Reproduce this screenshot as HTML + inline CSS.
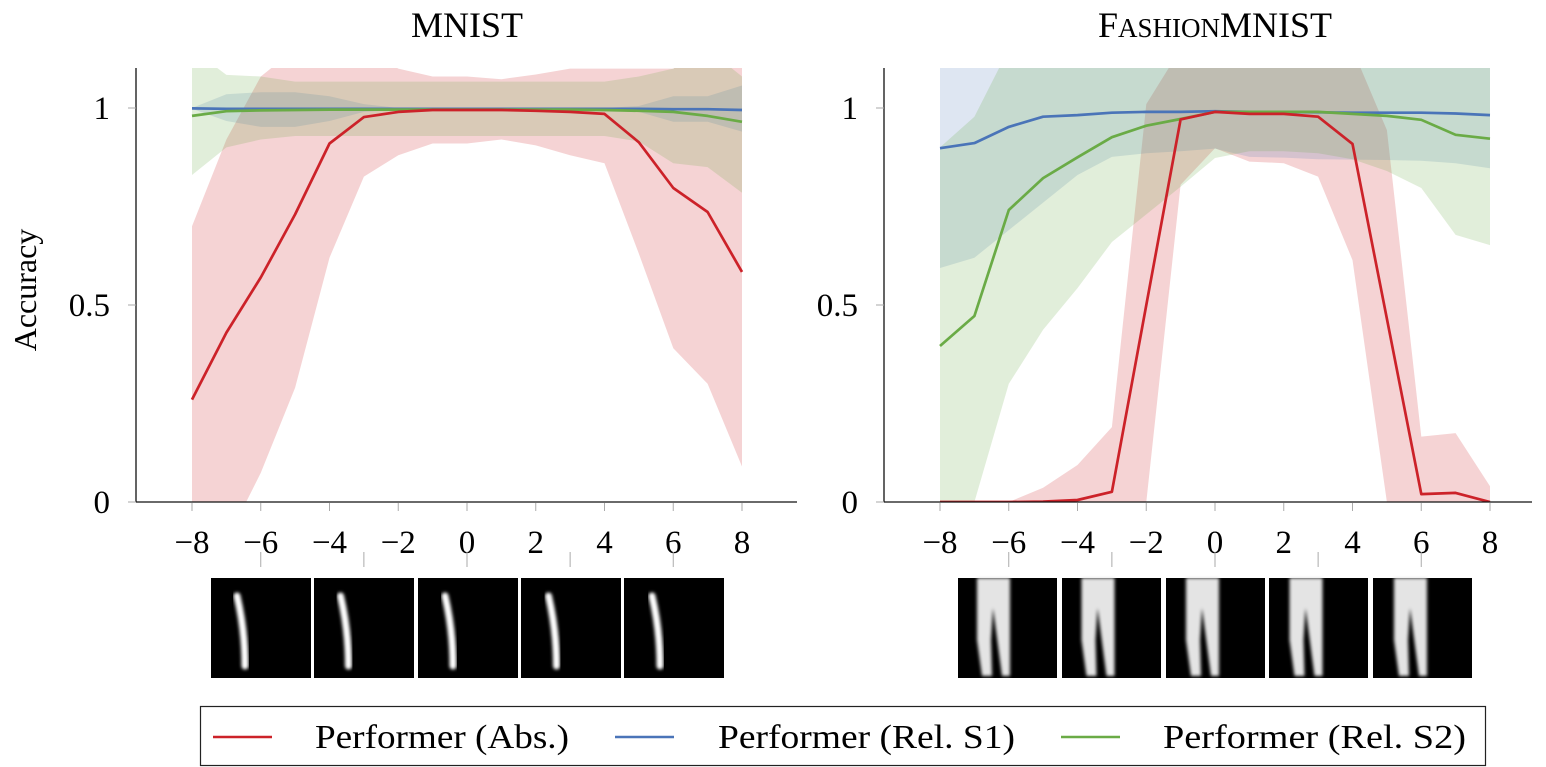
<!DOCTYPE html>
<html><head><meta charset="utf-8">
<style>
html,body{margin:0;padding:0;background:#fff;}
svg{display:block;font-family:"Liberation Serif",serif;}
</style></head>
<body>
<svg id="fig" width="1546" height="767" viewBox="0 0 1546 767" xmlns="http://www.w3.org/2000/svg">
<defs>
<clipPath id="clipL"><rect x="136" y="68" width="661" height="434"/></clipPath>
<clipPath id="clipR"><rect x="884" y="68" width="648" height="434"/></clipPath>
<filter id="blur1" x="-50%" y="-20%" width="200%" height="140%"><feGaussianBlur stdDeviation="1.6"/></filter>
</defs>
<g id="panelL"></g>
<g id="panelR"></g>
<g id="thumbs"></g>
<g>
<rect x="200.5" y="706.5" width="1285" height="59" fill="#fff" stroke="#222" stroke-width="1.2"/>
<g>
<line x1="213" y1="737" x2="272" y2="737" stroke="#cc2229" stroke-width="2.5"/>
<text x="315" y="748" font-size="34" textLength="254" lengthAdjust="spacingAndGlyphs">Performer (Abs.)</text></g>
<g>
<line x1="615" y1="737" x2="674" y2="737" stroke="#4a74b8" stroke-width="2.5"/>
<text x="718" y="748" font-size="34" textLength="297" lengthAdjust="spacingAndGlyphs">Performer (Rel. S1)</text></g>
<g>
<line x1="1061" y1="737" x2="1120" y2="737" stroke="#6aab46" stroke-width="2.5"/>
<text x="1163" y="748" font-size="34" textLength="303" lengthAdjust="spacingAndGlyphs">Performer (Rel. S2)</text></g>
</g>
</svg>
<script>
const shifts = [-8,-7,-6,-5,-4,-3,-2,-1,0,1,2,3,4,5,6,7,8];
const xTicks = [-8,-6,-4,-2,0,2,4,6,8];
const xTickLabels = ["−8","−6","−4","−2","0","2","4","6","8"];
const yTicks = [0,0.5,1];
const yTickLabels = ["0","0.5","1"];
const imageShifts = [-6,-3,0,3,6];

// MNIST
const mnistAbsMean = [0.26,0.43,0.57,0.73,0.91,0.977,0.99,0.995,0.995,0.995,0.993,0.99,0.985,0.913,0.797,0.736,0.584];
const mnistAbsLow  = [-0.2,-0.1,0.074,0.29,0.62,0.826,0.88,0.91,0.91,0.92,0.905,0.88,0.86,0.63,0.39,0.30,0.09];
const mnistAbsHigh = [0.70,0.92,1.08,1.15,1.15,1.15,1.1,1.08,1.08,1.073,1.085,1.1,1.1,1.1,1.1,1.15,1.15];
const mnistS1Mean  = [0.999,0.998,0.998,0.998,0.998,0.998,0.998,0.998,0.998,0.998,0.998,0.998,0.998,0.998,0.997,0.997,0.995];
const mnistS1Low   = [0.998,0.967,0.952,0.952,0.967,0.99,0.995,0.995,0.995,0.995,0.995,0.995,0.995,0.99,0.965,0.965,0.94];
const mnistS1High  = [1.0,1.035,1.04,1.04,1.03,1.01,1.0,1.0,1.0,1.0,1.0,1.0,1.0,1.005,1.03,1.03,1.057];
const mnistS2Mean  = [0.98,0.992,0.994,0.995,0.996,0.996,0.996,0.996,0.996,0.996,0.996,0.996,0.995,0.993,0.99,0.98,0.965];
const mnistS2Low   = [0.83,0.90,0.92,0.929,0.929,0.929,0.929,0.929,0.929,0.929,0.929,0.929,0.929,0.915,0.86,0.85,0.785];
const mnistS2High  = [1.15,1.084,1.08,1.067,1.067,1.067,1.067,1.067,1.067,1.067,1.067,1.067,1.067,1.08,1.1,1.15,1.08];

// FashionMNIST
const fashionAbsMean = [0,0,0,0.001,0.005,0.026,0.5,0.971,0.99,0.985,0.985,0.978,0.909,0.465,0.02,0.023,0.0];
const fashionAbsLow  = [0,0,0,0,0,0,0,0.805,0.898,0.864,0.86,0.826,0.614,0,0,0,0];
const fashionAbsHigh = [0,0,0,0.036,0.094,0.19,1.01,1.15,1.15,1.15,1.15,1.15,1.15,0.944,0.166,0.175,0.04];
const fashionS1Mean  = [0.898,0.911,0.952,0.978,0.982,0.988,0.99,0.99,0.992,0.99,0.99,0.989,0.988,0.988,0.988,0.986,0.982];
const fashionS1Low   = [0.594,0.62,0.69,0.76,0.83,0.876,0.885,0.89,0.897,0.876,0.874,0.87,0.869,0.868,0.866,0.86,0.847];
const fashionS1High  = [1.15,1.15,1.15,1.15,1.15,1.15,1.15,1.15,1.15,1.15,1.15,1.15,1.15,1.15,1.15,1.15,1.15];
const fashionS2Mean  = [0.396,0.472,0.741,0.822,0.875,0.926,0.955,0.972,0.99,0.99,0.99,0.99,0.985,0.98,0.97,0.932,0.922];
const fashionS2Low   = [0,0,0.30,0.437,0.543,0.66,0.73,0.80,0.873,0.89,0.89,0.885,0.87,0.84,0.797,0.678,0.652];
const fashionS2High  = [0.90,0.978,1.15,1.15,1.15,1.15,1.15,1.15,1.15,1.15,1.15,1.15,1.15,1.15,1.15,1.15,1.15];

const NS = "http://www.w3.org/2000/svg";
function mk(tag, attrs, parent){
  const e = document.createElementNS(NS, tag);
  for (const k in attrs) e.setAttribute(k, attrs[k]);
  parent.appendChild(e);
  return e;
}

function drawPanel(g, cfg){
  const xs = v => cfg.x0 + v*34.375;
  const ys = v => 502 - v*394;
  const bands = mk("g", {"clip-path":"url(#"+cfg.clip+")"}, g);
  
  
  const series = [
    ["abs", cfg.absLow, cfg.absHigh, cfg.absMean, "#cc2229", 0.2],
    ["s1", cfg.s1Low, cfg.s1High, cfg.s1Mean, "#4a74b8", 0.18],
    ["s2", cfg.s2Low, cfg.s2High, cfg.s2Mean, "#6aab46", 0.2]
  ];
  series.forEach(s => {
    let d = "";
    shifts.forEach((x,i)=>{ d += (i?"L":"M") + xs(x).toFixed(1) + "," + ys(s[2][i]).toFixed(1); });
    for (let i = shifts.length-1; i>=0; i--) d += "L" + xs(shifts[i]).toFixed(1) + "," + ys(s[1][i]).toFixed(1);
    d += "Z";
    const p = mk("path", {d:d, fill:s[4], "fill-opacity":s[5], stroke:"none"}, bands);
    
    
  });
  const lines = mk("g", {"clip-path":"url(#"+cfg.clip+")"}, g);
  ["s1","s2","abs"].forEach(k => {
    const s = series.find(q=>q[0]===k);
    let d = "";
    shifts.forEach((x,i)=>{ d += (i?"L":"M") + xs(x).toFixed(1) + "," + ys(s[3][i]).toFixed(1); });
    const p = mk("path", {d:d, fill:"none", stroke:s[4], "stroke-width":2.7, "stroke-linejoin":"round"}, lines);
    
    
  });
  const ax = mk("g", {}, g);
  
  
  mk("line", {x1:cfg.axisX, y1:68, x2:cfg.axisX, y2:502.5, stroke:"#111", "stroke-width":1.3}, ax);
  mk("line", {x1:cfg.axisX, y1:502, x2:cfg.xEnd, y2:502, stroke:"#111", "stroke-width":1.3}, ax);
  xTicks.forEach((v,i) => {
    mk("line", {x1:xs(v), y1:503, x2:xs(v), y2:511, stroke:"#aaa", "stroke-width":1}, ax);
    const t = mk("text", {x:xs(v), y:553, "font-size":33, "text-anchor":"middle"}, ax);
    t.textContent = xTickLabels[i];
    
    
  });
  imageShifts.forEach(v => {
    mk("line", {x1:xs(v), y1:552, x2:xs(v), y2:567, stroke:"#aaa", "stroke-width":1}, ax);
  });
  yTicks.forEach((v,i) => {
    mk("line", {x1:cfg.axisX-8, y1:ys(v), x2:cfg.axisX, y2:ys(v), stroke:"#aaa", "stroke-width":1}, ax);
    const t = mk("text", {x:cfg.axisX-26, y:ys(v)+11, "font-size":33, "text-anchor":"end"}, ax);
    t.textContent = yTickLabels[i];
    
    
  });
  const title = mk("text", {x:cfg.x0, y:37, "font-size":36, "text-anchor":"middle"}, g);
  
  
  return title;
}

const tL = drawPanel(document.getElementById("panelL"), {x0:467, axisX:136, xEnd:797, clip:"clipL",
  absMean:mnistAbsMean, absLow:mnistAbsLow, absHigh:mnistAbsHigh,
  s1Mean:mnistS1Mean, s1Low:mnistS1Low, s1High:mnistS1High,
  s2Mean:mnistS2Mean, s2Low:mnistS2Low, s2High:mnistS2High});
tL.textContent = "MNIST";
const tR = drawPanel(document.getElementById("panelR"), {x0:1215, axisX:884, xEnd:1532, clip:"clipR",
  absMean:fashionAbsMean, absLow:fashionAbsLow, absHigh:fashionAbsHigh,
  s1Mean:fashionS1Mean, s1Low:fashionS1Low, s1High:fashionS1High,
  s2Mean:fashionS2Mean, s2Low:fashionS2Low, s2High:fashionS2High});
tR.innerHTML = 'F<tspan font-size="27">ASHION</tspan>MNIST';

const yl = mk("text", {x:0, y:0, "font-size":32, "text-anchor":"middle", transform:"translate(36,290) rotate(-90)"}, document.getElementById("fig"));
yl.textContent = "Accuracy";



const thumbs = document.getElementById("thumbs");
const mnistX = [211,314,418,521,624];
const fashX = [958,1062,1166,1269,1373];
mnistX.forEach((x,i) => {
  const g = mk("g", {}, thumbs);
  
  
  mk("rect", {x:x, y:578, width:100, height:100, fill:"#000"}, g);
  const dx = x + 26 + i*0.5;
  mk("path", {d:`M${dx},${596} Q${dx+8},${630} ${dx+8},${666}`, stroke:"#fff", "stroke-width":7, fill:"none", "stroke-linecap":"round", filter:"url(#blur1)"}, g);
});
fashX.forEach((x,i) => {
  const g = mk("g", {}, thumbs);
  
  
  mk("rect", {x:x, y:578, width:99, height:100, fill:"#000"}, g);
  const o = x + i*0.5;
  const d = `M${o+19},578 L${o+52},578 L${o+52},676 L${o+44},676 L${o+35},608 L${o+33},640 L${o+34},676 L${o+24},676 L${o+19},640 Z`;
  mk("path", {d:d, fill:"#e4e4e4", filter:"url(#blur1)"}, g);
});
</script>
</body></html>
